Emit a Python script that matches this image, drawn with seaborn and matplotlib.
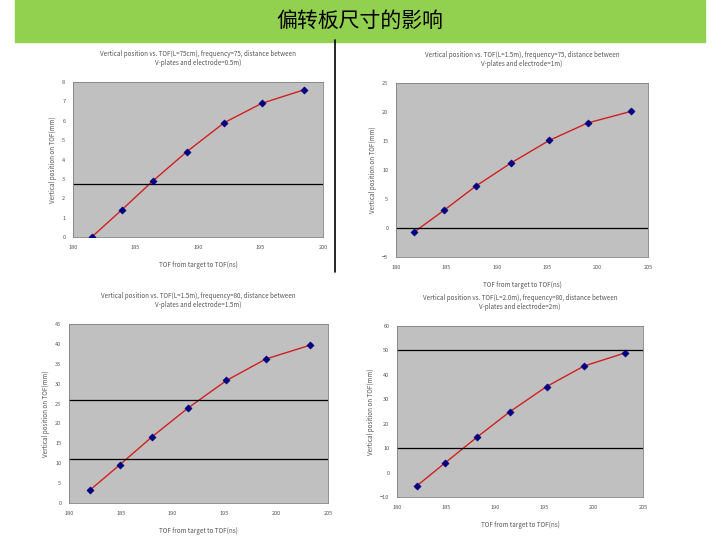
import matplotlib.pyplot as plt
import seaborn as sns
import pandas as pd
import matplotlib.patches as mpatches

sns.set_style("white")
plt.rcParams['font.family'] = ['Noto Sans CJK SC', 'DejaVu Sans']

# data
x_tof = [[181.5, 183.9, 186.4, 189.1, 192.1, 195.1, 198.5],
         [181.8, 184.8, 187.9, 191.4, 195.2, 199.0, 203.3],
         [182.0, 184.9, 188.0, 191.5, 195.2, 199.0, 203.3],
         [182.0, 184.9, 188.1, 191.5, 195.2, 199.0, 203.2]]
y_pos = [[0.0, 1.4, 2.9, 4.4, 5.9, 6.9, 7.6],
         [-0.7, 3.1, 7.2, 11.2, 15.1, 18.1, 20.1],
         [3.2, 9.6, 16.6, 23.9, 30.8, 36.2, 39.7],
         [-5.5, 4.0, 14.4, 25.0, 35.2, 43.6, 49.0]]
h_lines = [[2.75], [0], [11, 26], [10, 50]]
x_lims = [(180, 200), (180, 205), (180, 205), (180, 205)]
y_lims = [(0, 8), (-5, 25), (0, 45), (-10, 60)]
y_steps = [1, 5, 5, 10]
titles = ["Vertical position vs. TOF(L=75cm), frequency=75, distance between\nV-plates and electrode=0.5m)",
          "Vertical position vs. TOF(L=1.5m), frequency=75, distance between\nV-plates and electrode=1m)",
          "Vertical position vs. TOF(L=1.5m), frequency=80, distance between\nV-plates and electrode=1.5m)",
          "Vertical position vs. TOF(L=2.0m), frequency=80, distance between\nV-plates and electrode=2m)"]
x_label = "TOF from target to TOF(ns)"
y_label = "Vertical position on TOF(mm)"

# plot-area boxes in pixels: left, top, right, bottom
boxes = [(73, 82, 323, 237), (396, 83, 648, 257), (69, 324, 328, 503), (397, 326, 643, 497)]

W, H = 720, 540
fig = plt.figure(figsize=(7.2, 5.4), dpi=100)

# green title bar
fig.patches.append(mpatches.Rectangle((15 / W, 1 - 42 / H), 690 / W, 42 / H,
                                      transform=fig.transFigure, color='#92d050', zorder=0))
fig.text(0.5, 1 - 21 / H, "偏转板尺寸的影响", ha='center', va='center', fontsize=15, color='black')
fig.add_artist(plt.Line2D([335 / W, 335 / W], [1 - 40 / H, 1 - 272 / H], color='black', lw=1.2))

for i in range(4):
    l, t, r, b = boxes[i]
    ax = fig.add_axes([l / W, 1 - b / H, (r - l) / W, (b - t) / H])
    ax.set_facecolor('#c0c0c0')
    df = pd.DataFrame({'x': x_tof[i], 'y': y_pos[i]})
    sns.lineplot(data=df, x='x', y='y', ax=ax, color='#d02020', lw=1)
    sns.scatterplot(data=df, x='x', y='y', ax=ax, marker='D', s=14, color='#000080',
                    edgecolor='#000080', zorder=3)
    for hv in h_lines[i]:
        ax.axhline(hv, color='black', lw=0.9)
    ax.set_xlim(*x_lims[i])
    ax.set_ylim(*y_lims[i])
    ax.set_xticks(range(x_lims[i][0], x_lims[i][1] + 1, 5))
    ax.set_yticks(range(y_lims[i][0], y_lims[i][1] + 1, y_steps[i]))
    ax.tick_params(labelsize=4, colors='#555555', length=2)
    for s in ax.spines.values():
        s.set_color('#808080')
        s.set_linewidth(0.6)
    ax.set_xlabel(x_label, fontsize=4.5, color='#555555', labelpad=8)
    ax.set_ylabel(y_label, fontsize=4.5, color='#555555', labelpad=4)
    ax.set_title(titles[i], fontsize=4.5, color='#555555', pad=12)

fig.savefig('out.png', dpi=100)
